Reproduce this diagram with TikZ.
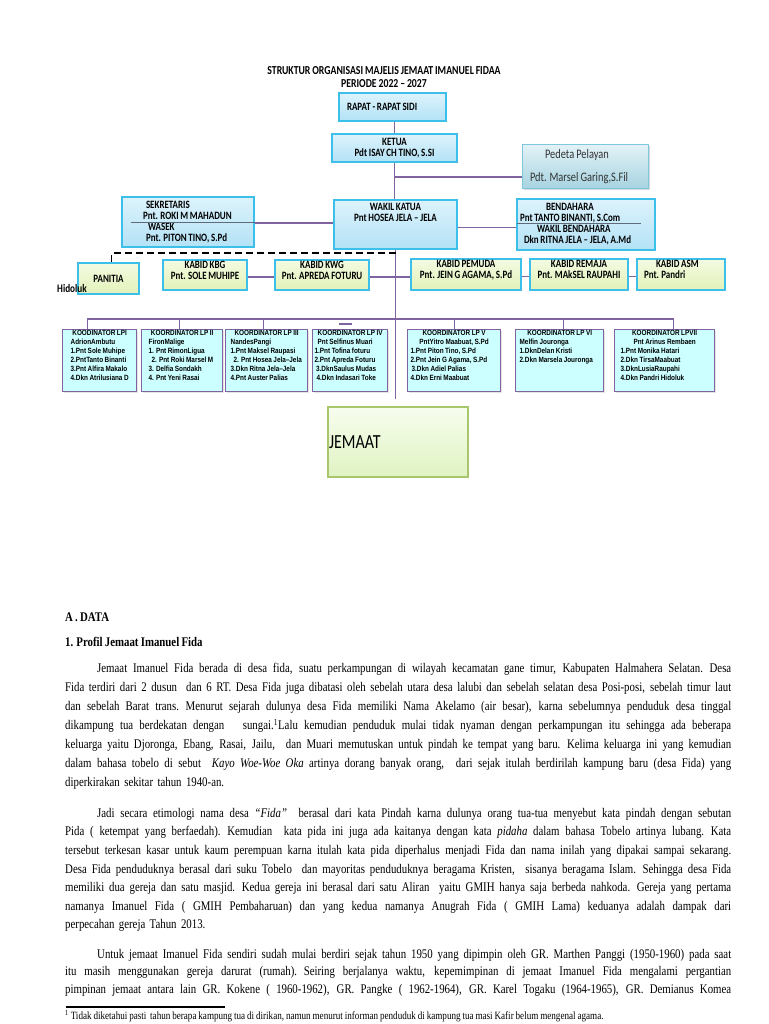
\documentclass[tikz,border=0pt]{standalone}
\usepackage{fontspec}
\setmainfont{Liberation Serif}
\newfontfamily\bodyfont[FakeStretch=0.82, WordSpace=0.82]{Liberation Serif}
\newfontfamily\calibri[FakeStretch=0.8, WordSpace=0.85]{Carlito}
\newfontfamily\narrowsans[FakeStretch=0.84, WordSpace=0.84]{Liberation Sans}
\usetikzlibrary{
  positioning,
  calc,
  shadows
}
\definecolor{orgPurple}{HTML}{8064A2}
\definecolor{orgCyan}{HTML}{3CC0EA}
\definecolor{topLight}{HTML}{DDF3FC}
\definecolor{topDark}{HTML}{B3E2F6}
\definecolor{kabLight}{HTML}{F4FBE2}
\definecolor{kabDark}{HTML}{E2F2B8}
\definecolor{koorFill}{HTML}{CCFFFF}
\definecolor{jemLight}{HTML}{F7FDEE}
\definecolor{jemDark}{HTML}{E0F3C2}
\definecolor{jemEdge}{HTML}{A8C66C}
\definecolor{pelLight}{HTML}{E2F2F7}
\definecolor{pelDark}{HTML}{A6D3E0}
\definecolor{pelEdge}{HTML}{7FC8DC}
\definecolor{strikeGray}{HTML}{5F6B7A}
\newcommand{\toptext}[3]{\parbox[c][#2][t]{#1}{#3}}
\newcommand{\lefttext}[2]{\parbox{#1}{\raggedright #2}}
\newcommand{\koortext}[4]{\parbox[c][60pt][t]{#1}{{\centering #2\par}\leftskip=#3\relax #4}}
\newcommand{\jline}[1]{\leavevmode\hbox to 666pt{\spaceskip=\fontdimen2\font plus 0.5em minus 0.05em\relax #1}}
\newcommand{\jfirst}[1]{\leavevmode\hspace*{32pt}\hbox to 634pt{\spaceskip=\fontdimen2\font plus 0.5em minus 0.05em\relax #1}}
\tikzset{
  orgnode/.style={
    draw=orgCyan, line width=1.2pt, inner sep=0pt,
    font=\calibri\bfseries\fontsize{11.2}{11}\selectfont,
    drop shadow={opacity=0.25, shadow xshift=1pt, shadow yshift=-1pt}
  },
  topbox/.style={orgnode, top color=topLight, bottom color=topDark},
  kabidbox/.style={orgnode, top color=kabLight, bottom color=kabDark},
  pelbox/.style={
    draw=pelEdge, line width=1pt, top color=pelLight, bottom color=pelDark, inner sep=0pt,
    text=black!80, font=\calibri\fontsize{13}{13}\selectfont,
    drop shadow={opacity=0.3, shadow xshift=1.5pt, shadow yshift=-1.5pt}
  },
  koorbox/.style={
    draw=orgPurple, line width=1.3pt, fill=koorFill, anchor=north west,
    inner xsep=2pt, inner ysep=1pt, minimum height=62pt,
    font=\narrowsans\bfseries\fontsize{7.6}{9}\selectfont,
    drop shadow={opacity=0.2, shadow xshift=1pt, shadow yshift=-1pt}
  },
  jembox/.style={
    draw=jemEdge, line width=1.2pt, top color=jemLight, bottom color=jemDark, inner sep=0pt,
    font=\calibri\fontsize{20}{22}\selectfont,
    drop shadow={opacity=0.25, shadow xshift=1pt, shadow yshift=-1pt}
  },
  orgline/.style={draw=orgPurple, line width=1.4pt},
  strikeline/.style={draw=strikeGray, line width=1pt},
  dashline/.style={draw=black, line width=1.6pt, dash pattern=on 7pt off 4pt},
  headtext/.style={anchor=base west, inner sep=0pt, font=\bodyfont\bfseries\fontsize{13.2}{15}\selectfont},
  para/.style={anchor=north west, inner sep=0pt, text width=666pt, align=left}
}

\begin{document}
\begin{tikzpicture}[x=1pt, y=-1pt]
  \fill[white] (0,0) rectangle (768,1024);
  \useasboundingbox (0,0) rectangle (768,1024);

  % title
  \node[font=\calibri\bfseries\fontsize{12.2}{13}\selectfont, align=center] (title) at (384,77.5)
    {STRUKTUR ORGANISASI MAJELIS JEMAAT IMANUEL FIDAA\\PERIODE 2022 – 2027};

  % top of the chart
  \node[topbox, minimum width=107pt, minimum height=28pt] (rapat) at (392.5,107)
    {\lefttext{91pt}{RAPAT - RAPAT SIDI}};
  \node[topbox, minimum width=125pt, minimum height=28pt, align=center] (ketua) at (394.5,148)
    {KETUA\\Pdt ISAY CH TINO, S.SI};
  \node[pelbox, minimum width=126pt, minimum height=44pt] (pelayan) at (585,167)
    {\lefttext{110pt}{\hspace*{15pt}Pedeta Pelayan\\[10pt]Pdt. Marsel Garing,S.Fil}};
  \node[topbox, minimum width=132pt, minimum height=50pt] (sek) at (188,222)
    {\lefttext{126pt}{\hspace*{21pt}SEKRETARIS\\\hspace*{18pt}Pnt. ROKI M MAHADUN\\\hspace*{23pt}WASEK\\\hspace*{21pt}Pnt. PITON TINO, S.Pd}};
  \node[topbox, minimum width=123pt, minimum height=49pt] (wakil) at (395.5,224.5)
    {\toptext{117pt}{43pt}{\centering WAKIL KATUA\\Pnt HOSEA JELA – JELA}};
  \node[topbox, minimum width=138pt, minimum height=51pt] (bend) at (586,224.5)
    {\lefttext{132pt}{\hspace*{26pt}BENDAHARA\\Pnt TANTO BINANTI, S.Com\\\hspace*{17pt}WAKIL BENDAHARA\\\hspace*{4pt}Dkn RITNA JELA – JELA, A.Md}};

  % kabid row
  \node[kabidbox, minimum width=61pt, minimum height=31pt] (panitia) at (108.5,278.5) {PANITIA};
  \node[anchor=west, inner sep=0pt, font=\calibri\bfseries\fontsize{11.5}{12}\selectfont]
    (hidoluk) at (57,289) {Hidoluk};
  \node[kabidbox, minimum width=84pt, minimum height=30pt] (kbg) at (205,275)
    {\toptext{80pt}{27pt}{\centering KABID KBG\\Pnt. SOLE MUHIPE}};
  \node[kabidbox, minimum width=94pt, minimum height=30pt] (kwg) at (322,275)
    {\toptext{90pt}{27pt}{\centering KABID KWG\\Pnt. APREDA FOTURU}};
  \node[kabidbox, minimum width=110pt, minimum height=31pt] (pemuda) at (466,274.5)
    {\toptext{106pt}{28pt}{\centering KABID PEMUDA\\Pnt. JEIN G AGAMA, S.Pd}};
  \node[kabidbox, minimum width=98pt, minimum height=31pt] (remaja) at (579,274.5)
    {\toptext{94pt}{28pt}{\centering KABID REMAJA\\Pnt. MAkSEL RAUPAHI}};
  \node[kabidbox, minimum width=88pt, minimum height=31pt] (asm) at (681,274.5)
    {\toptext{84pt}{28pt}{\hspace*{17pt}KABID ASM\\\hspace*{5pt}Pnt. Pandri}};

  % koordinator row
  \node[koorbox] (lp1) at (62,329) {\koortext{70pt}{KOODINATOR LPI}{6pt}%
    {AdrionAmbutu\\1.Pnt Sole Muhipe\\2.PntTanto Binanti\\3.Pnt Alfira Makalo\\4.Dkn Atrilusiana D}};
  \node[koorbox] (lp2) at (141,329) {\koortext{77pt}{KOORDINATOR LP II}{5pt}%
    {FironMalige\\1. Pnt RimonLigua\\\hspace*{3pt}2. Pnt Roki Marsel M\\3. Delfia Sondakh\\4. Pnt Yeni Rasai}};
  \node[koorbox] (lp3) at (225,329) {\koortext{78pt}{KOORDINATOR LP III}{3pt}%
    {NandesPangi\\1.Pnt Maksel Raupasi\\\hspace*{3pt}2. Pnt Hosea Jela–Jela\\3.Dkn Ritna Jela–Jela\\4.Pnt Auster Palias}};
  \node[koorbox] (lp4) at (312,329) {\koortext{71pt}{KOORDINATOR LP IV}{0pt}%
    {\hspace*{3pt}Pnt Selfinus Muari\\1.Pnt Tofina foturu\\2.Pnt Apreda Foturu\\\hspace*{1.5pt}3.DknSaulus Mudas\\\hspace*{2pt}4.Dkn Indasari Toke}};
  \node[koorbox] (lp5) at (407,329) {\koortext{89pt}{KOORDINATOR LP V\\PntYitro Maabuat, S.Pd}{1pt}%
    {1.Pnt Piton Tino, S.Pd\\2.Pnt Jein G Agama, S.Pd\\\hspace*{1pt}3.Dkn Adiel Palias\\4.Dkn Erni Maabuat}};
  \node[koorbox] (lp6) at (515,329) {\koortext{84pt}{KOORDINATOR LP VI}{2pt}%
    {Melfin Jouronga\\1.DknDelan Kristi\\2.Dkn Marsela Jouronga}};
  \node[koorbox] (lp7) at (614,329) {\koortext{96pt}{KOORDINATOR LPVII\\Pnt Arinus Rembaen}{4pt}%
    {1.Pnt Monika Hatari\\2.Dkn TirsaMaabuat\\3.DknLusiaRaupahi\\4.Dkn Pandri Hidoluk}};

  \node[jembox, minimum width=140pt, minimum height=70pt] (jemaat) at (398,442)
    {\lefttext{138pt}{JEMAAT}};

  % connectors
  \coordinate (sekstrike) at (131,223);
  \coordinate (bendstrike) at (517,224);
  \coordinate (bendstrikeend) at (641,224);
  \coordinate (dashstart) at (395.5,253);
  \coordinate (bus) at (395.5,319);
  \coordinate (dashL) at (339,324);
  \coordinate (dashR) at (352,324);

  \draw[orgline] (rapat.south -| ketua.north) -- (ketua.north);
  \draw[orgline] (ketua.south) -- (ketua.south |- wakil.north);
  \draw[orgline] ([yshift=-10pt]pelayan.west) -- ([yshift=-10pt]pelayan.west -| ketua.south);
  \draw[strikeline] (sekstrike) -- (sekstrike -| sek.east);
  \draw[orgline] (sekstrike -| sek.east) -- (sekstrike -| wakil.west);
  \draw[orgline] ([yshift=-3pt]wakil.east) -- ([yshift=-3pt]wakil.east -| bend.west);
  \draw[strikeline] (bendstrike) -- (bendstrikeend);
  \draw[orgline] (wakil.south) -- ([yshift=7pt]wakil.south |- jemaat.north);
  \draw[dashline] (dashstart) -| ([xshift=3pt]panitia.north);

  \draw[orgline] ([yshift=-2pt]kbg.east) -- ([yshift=-2pt]kbg.east -| kwg.west);
  \draw[orgline] ([yshift=-2pt]kwg.east) -- ([yshift=-2pt]kwg.east -| pemuda.west);
  \draw[orgline] ([yshift=-2pt]pemuda.east) -- ([yshift=-2pt]pemuda.east -| remaja.west);
  \draw[orgline] ([yshift=-2pt]remaja.east) -- ([yshift=-2pt]remaja.east -| asm.west);

  \draw[orgline] ([xshift=-12pt]lp1.north) |- (bus) -| ([xshift=9pt]lp7.north);
  \foreach \lp/\dx in {lp2/-2.5, lp3/-3, lp5/0.5, lp6/4}
    \draw[orgline] ([xshift=\dx pt]\lp.north) -- ([xshift=\dx pt]\lp.north |- bus);
  \draw[orgline] (dashL) -- (dashR);

  % text of the page
  \node[headtext] (secA) at (65,621.4) {A . DATA};
  \node[headtext] (secprofil) at (65,646.4) {1. Profil Jemaat Imanuel Fida};

  \node[para, font=\bodyfont\fontsize{13.2}{19}\selectfont] (para1) at (65,663) {%
    \jfirst{Jemaat Imanuel Fida berada di desa fida, suatu perkampungan di wilayah kecamatan gane timur, Kabupaten Halmahera Selatan. Desa}\\
    \jline{Fida terdiri dari 2 dusun \ dan 6 RT. Desa Fida juga dibatasi oleh sebelah utara desa lalubi dan sebelah selatan desa Posi-posi, sebelah timur laut}\\
    \jline{dan sebelah Barat trans. Menurut sejarah dulunya desa Fida memiliki Nama Akelamo (air besar), karna sebelumnya penduduk desa tinggal}\\
    \jline{dikampung tua berdekatan dengan \ \ sungai.\textsuperscript{1}Lalu kemudian penduduk mulai tidak nyaman dengan perkampungan itu sehingga ada beberapa}\\
    \jline{keluarga yaitu Djoronga, Ebang, Rasai, Jailu, \ dan Muari memutuskan untuk pindah ke tempat yang baru. Kelima keluarga ini yang kemudian}\\
    \jline{dalam bahasa tobelo di sebut \ \textit{Kayo Woe-Woe Oka} artinya dorang banyak orang, \ dari sejak itulah berdirilah kampung baru (desa Fida) yang}\\
    diperkirakan sekitar tahun 1940-an.};

  \node[para, font=\bodyfont\fontsize{13.2}{18.6}\selectfont] (para2) at (65,808) {%
    \jfirst{Jadi secara etimologi nama desa \textit{“Fida”} \ berasal dari kata Pindah karna dulunya orang tua-tua menyebut kata pindah dengan sebutan}\\
    \jline{Pida ( ketempat yang berfaedah). Kemudian \ kata pida ini juga ada kaitanya dengan kata \textit{pidaha} dalam bahasa Tobelo artinya lubang. Kata}\\
    \jline{tersebut terkesan kasar untuk kaum perempuan karna itulah kata pida diperhalus menjadi Fida dan nama inilah yang dipakai sampai sekarang.}\\
    \jline{Desa Fida penduduknya berasal dari suku Tobelo \ dan mayoritas penduduknya beragama Kristen, \ sisanya beragama Islam. Sehingga desa Fida}\\
    \jline{memiliki dua gereja dan satu masjid. Kedua gereja ini berasal dari satu Aliran \ yaitu GMIH hanya saja berbeda nahkoda. Gereja yang pertama}\\
    \jline{namanya Imanuel Fida ( GMIH Pembaharuan) dan yang kedua namanya Anugrah Fida ( GMIH Lama) keduanya adalah dampak dari}\\
    perpecahan gereja Tahun 2013.};

  \node[para, font=\bodyfont\fontsize{13.2}{17.5}\selectfont] (para3) at (65,949) {%
    \jfirst{Untuk jemaat Imanuel Fida sendiri sudah mulai berdiri sejak tahun 1950 yang dipimpin oleh GR. Marthen Panggi (1950-1960) pada saat}\\
    \jline{itu masih menggunakan gereja darurat (rumah). Seiring berjalanya waktu, kepemimpinan di jemaat Imanuel Fida mengalami pergantian}\\
    \jline{pimpinan jemaat antara lain GR. Kokene ( 1960-1962), GR. Pangke ( 1962-1964), GR. Karel Togaku (1964-1965), GR. Demianus Komea}};

  % footnote
  \coordinate (rulestart) at (66,1007);
  \coordinate (ruleend) at (225,1007);
  \draw[line width=1.3pt] (rulestart) -- (ruleend);
  \node[anchor=base west, inner sep=0pt, font=\bodyfont\fontsize{11.1}{13}\selectfont] (foot) at (65,1019.5)
    {\textsuperscript{1} Tidak diketahui pasti \ tahun berapa kampung tua di dirikan, namun menurut informan penduduk di kampung tua masi Kafir belum mengenal agama.};
\end{tikzpicture}
\end{document}
